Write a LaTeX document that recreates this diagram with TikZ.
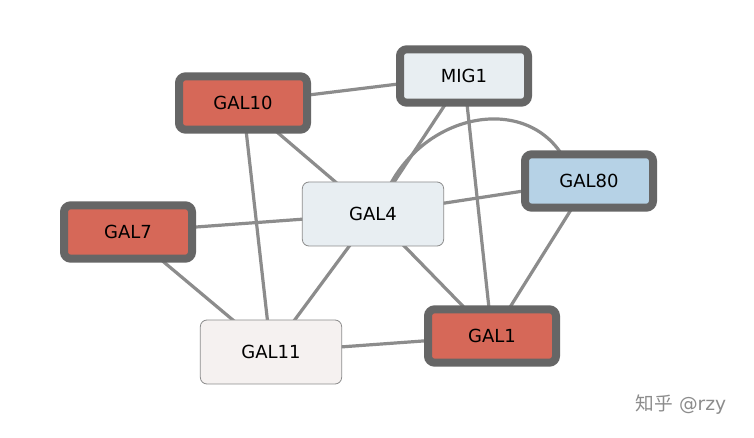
\documentclass[tikz,border=0pt]{standalone}
\usepackage{fontspec}
\setmainfont{DejaVu Sans}
\newfontfamily\cjk{Noto Sans CJK SC}
\begin{document}
\begin{tikzpicture}[x=0.75pt,y=-0.75pt,
  base/.style={rectangle,rounded corners=5pt,font=\fontsize{13.5pt}{16pt}\selectfont,inner sep=0pt},
  hub/.style={base,draw=black!60,line width=6pt,minimum width=96pt,minimum height=40pt},
  thin/.style={base,draw=black!45,line width=0.6pt,minimum width=106pt,minimum height=48pt},
  edge/.style={draw=black!45,line width=2.4pt}]
\useasboundingbox (0,0) rectangle (754,438);
\fill[white] (0,0) rectangle (754,438);
\coordinate (c10) at (243,103);
\coordinate (cM) at (464,76);
\coordinate (c80) at (589,181);
\coordinate (c7) at (128,232);
\coordinate (c4) at (373,214);
\coordinate (c11) at (271,352);
\coordinate (c1) at (492,336);
\draw[edge] (c10) -- (cM);
\draw[edge] (c10) -- (c4);
\draw[edge] (c10) -- (c11);
\draw[edge] (c7) -- (c4);
\draw[edge] (c7) -- (c11);
\draw[edge] (c4) -- (c11);
\draw[edge] (c4) -- (c80);
\draw[edge] (c4) -- (c1);
\draw[edge] (cM) -- (c4);
\draw[edge] (cM) -- (c1);
\draw[edge] (c80) -- (c1);
\draw[edge] (c11) -- (c1);
\draw[edge] (390,185) .. controls (430,110) and (530,95) .. (565,160);
\node[hub,fill={rgb,255:red,214;green,104;blue,88}] (GAL10) at (c10) {GAL10};
\node[hub,fill={rgb,255:red,232;green,238;blue,242}] (MIG1) at (cM) {MIG1};
\node[hub,fill={rgb,255:red,182;green,210;blue,230}] (GAL80) at (c80) {GAL80};
\node[hub,fill={rgb,255:red,214;green,104;blue,88}] (GAL7) at (c7) {GAL7};
\node[hub,fill={rgb,255:red,214;green,104;blue,88}] (GAL1) at (c1) {GAL1};
\node[thin,fill={rgb,255:red,232;green,238;blue,242}] (GAL4) at (c4) {GAL4};
\node[thin,fill={rgb,255:red,245;green,241;blue,240}] (GAL11) at (c11) {GAL11};
\node[text=black!45,font=\fontsize{14pt}{16pt}\selectfont] (wm) at (681,405) {{\cjk 知乎} @rzy};
\end{tikzpicture}
\end{document}
